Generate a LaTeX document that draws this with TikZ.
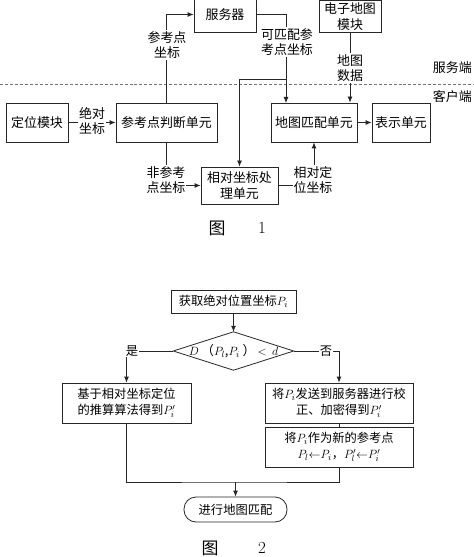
\documentclass[tikz,border=0pt]{standalone}
\usepackage{fontspec}
\usetikzlibrary{arrows.meta,calc}
\newfontfamily\cjk{Noto Sans CJK SC}
\begin{document}
\begin{tikzpicture}[x=1bp,y=-1bp,
  every node/.style={font=\cjk\fontsize{13}{15.5}\selectfont, align=center, inner sep=1bp},
  fsmall/.style={font=\cjk\fontsize{12.3}{16}\selectfont},
  box/.style={draw=black!85, line width=0.8bp, rectangle, inner sep=0pt},
  lbl/.style={fill=white, inner sep=1bp},
  ln/.style={draw=black!85, line width=0.8bp},
  arr/.style={ln, -{Latex[length=6bp,width=5bp]}},
  figcap/.style={font=\cjk\fontsize{17}{19}\selectfont}
]
\useasboundingbox (0,0) rectangle (474,557);
% ---------- Figure 1 ----------
\node[box, minimum width=62bp, minimum height=35bp] (server) at (225,14.5) {服务器};
\node[box, minimum width=62bp, minimum height=32bp] (emap) at (350,16.5) {电子地图\\模块};
\node[box, minimum width=62bp, minimum height=39bp] (locate) at (37,122.5) {定位模块};
\node[box, minimum width=101bp, minimum height=39bp] (judge) at (166.5,122.5) {参考点判断单元};
\node[box, minimum width=86bp, minimum height=39bp] (match) at (314,122.5) {地图匹配单元};
\node[box, minimum width=58bp, minimum height=39bp] (show) at (401,122.5) {表示单元};
\node[box, minimum width=77bp, minimum height=37bp] (rel) at (239.5,185.5) {相对坐标处\\理单元};

\draw[black!55, line width=0.6bp, densely dashed] (0,84) -- (474,84);
\node[anchor=east] (srvside) at (473,68) {服务端};
\node[anchor=east] (cliside) at (473,97) {客户端};

\coordinate (mtop) at (286,103);
\coordinate (jn) at (286,79);
\draw[arr] (judge.north) |- (server.west);
\node[lbl] (l1) at (167,45) {参考点\\坐标};
\draw[arr] (server.east) -| (mtop);
\draw[arr] (jn) -| (rel.north);
\node[lbl] (l2) at (287,42) {可匹配参\\考点坐标};
\draw[arr] (emap.south) -- (emap.south |- match.north);
\node[lbl] (l3) at (350,68) {地图\\数据};
\draw[arr] (locate.east) -- (judge.west);
\node[lbl] (l4) at (92,121) {绝对\\坐标};
\draw[arr] (judge.south) |- (rel.west);
\node[lbl] (l5) at (166,180) {非参考\\点坐标};
\draw[arr] (rel.east) -| (match.south);
\node[lbl] (l6) at (313,180) {相对定\\位坐标};
\draw[arr] (match.east) -- (show.west);
\node[figcap] (f1a) at (217,228) {图};
\node[font=\fontsize{17}{19}\selectfont] (f1b) at (262,228) {1};

% ---------- Figure 2 ----------
\node[box, fsmall, minimum width=125bp, minimum height=23bp] (get) at (233.5,301.5) {获取绝对位置坐标$P_i$};
\node[minimum width=120bp, minimum height=38bp, inner sep=0pt] (dec) at (233.5,351) {$D$\,（$P_l$,$P_i$\ ）$\,<\,d$};
\draw[ln] (dec.west) -- (dec.north) -- (dec.east) -- (dec.south) -- cycle;
\draw[arr] (get.south) -- (dec.north);
\node[box, fsmall, minimum width=129bp, minimum height=40bp] (left) at (126.5,403) {基于相对坐标定位\\的推算算法得到$P_i^{\prime}$};
\node[box, fsmall, minimum width=148bp, minimum height=40bp] (r1) at (339,403) {将$P_i$发送到服务器进行校\\正、加密得到$P_i^{\prime}$};
\node[box, fsmall, minimum width=148bp, minimum height=40bp] (r2) at (339,447) {将$P_i$作为新的参考点\\$P_l{\leftarrow}P_i$，$P_l^{\prime}{\leftarrow}P_i^{\prime}$};
\draw[arr] (dec.west) -| (left.north);
\node[lbl, fsmall] (yes) at (132,351) {是};
\draw[arr] (dec.east) -| (r1.north);
\node[lbl, fsmall] (no) at (326,351) {否};
\draw[ln] (r1.south) -- (r2.north);
\node[box, fsmall, rounded corners=12bp, minimum width=103bp, minimum height=25bp] (final) at (235.5,509.5) {进行地图匹配};
\coordinate (mg) at (235.5,482);
\draw[ln] (left.south) |- (mg) -| (r2.south);
\draw[arr] (mg) -- (final.north);
\node[figcap] (f2a) at (210,548) {图};
\node[font=\fontsize{17}{19}\selectfont] (f2b) at (262,548) {2};
\end{tikzpicture}
\end{document}
